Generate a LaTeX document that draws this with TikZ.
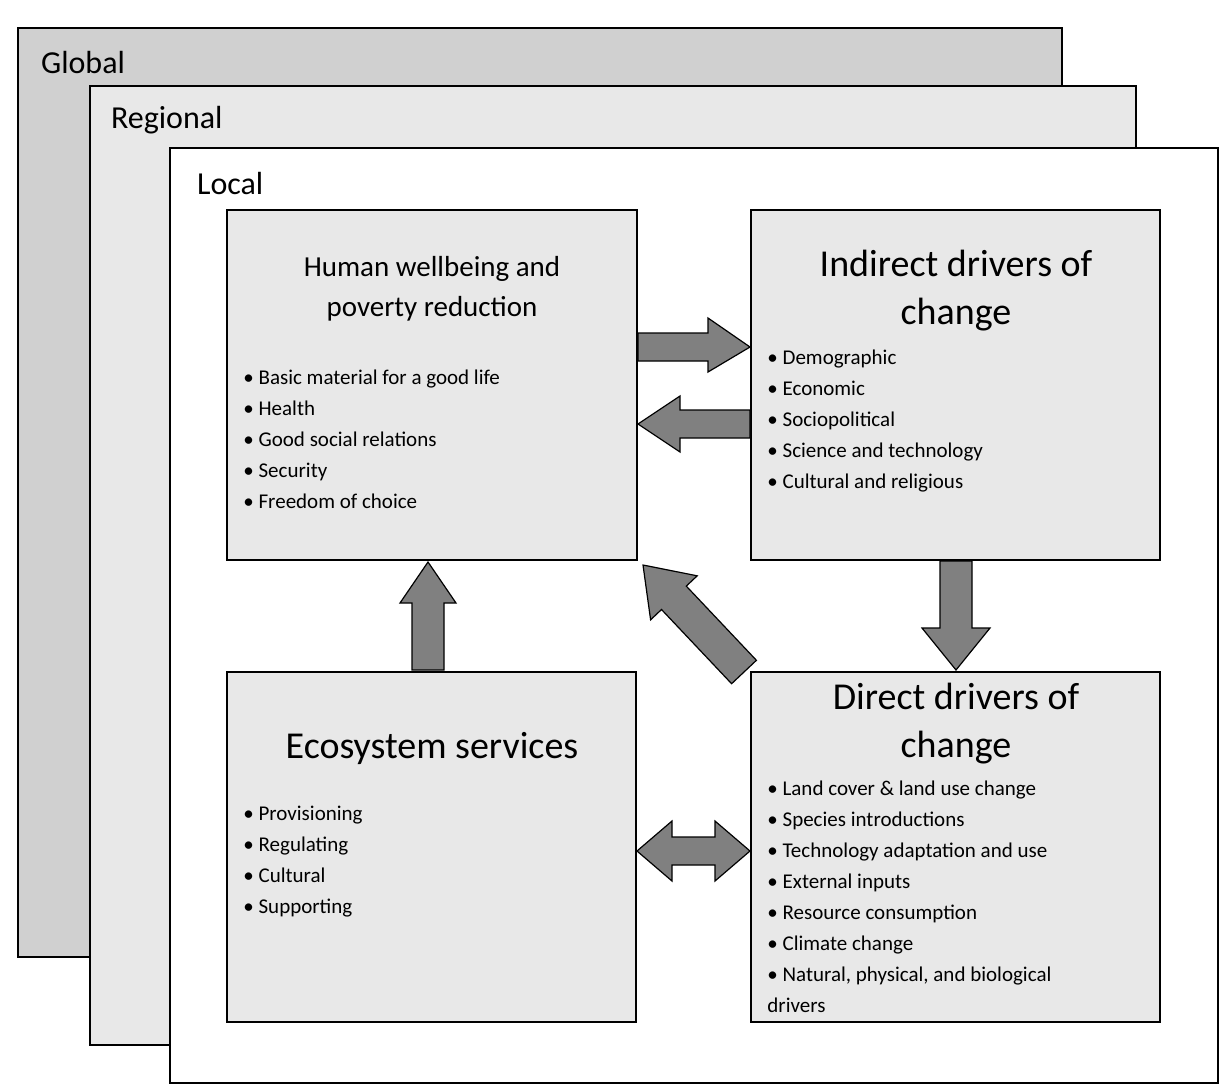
\documentclass[tikz,border=0pt]{standalone}
\usepackage{fontspec}
\setmainfont{Carlito}
\begin{document}
\begin{tikzpicture}[x=0.5pt,y=-0.5pt,
  lvl/.style={draw=black,line width=0.8pt},
  box/.style={draw=black,fill=gray!18,line width=0.8pt},
  fat/.style={draw=black,line width=0.6pt,fill={rgb,255:red,128;green,128;blue,128}},
  ttl/.style={anchor=north,align=center,inner sep=0},
  lst/.style={anchor=north west,align=left,inner sep=0,font=\fontsize{10.5}{15.5}\selectfont}]
\useasboundingbox (0,0) rectangle (1226,1089);
\draw[lvl,fill={rgb,255:red,208;green,208;blue,208}] (18,28) rectangle (1062,957);
\draw[lvl,fill={rgb,255:red,232;green,232;blue,232}] (90,86) rectangle (1136,1045);
\draw[lvl,fill=white] (170,148) rectangle (1218,1083);
\node[anchor=west,font=\fontsize{16}{18}\selectfont] (glob) at (34,62) {Global};
\node[anchor=west,font=\fontsize{16}{18}\selectfont] (reg) at (104,120) {Regional};
\node[anchor=west,font=\fontsize{16}{18}\selectfont] (loc) at (190,183) {Local};
\draw[box] (227,210) rectangle (637,560); \node (hw) at (432,385) {};
\draw[box] (751,210) rectangle (1160,560); \node (id) at (955,385) {};
\draw[box] (227,672) rectangle (636,1022); \node (es) at (432,847) {};
\draw[box] (751,672) rectangle (1160,1022); \node (dd) at (955,847) {};
\node[ttl,font=\fontsize{14.5}{20}\selectfont] (hwt) at (432,256) {Human wellbeing and\\poverty reduction};
\node[lst] (hwl) at (243,370) {• Basic material for a good life\\• Health\\• Good social relations\\• Security\\• Freedom of choice};
\node[ttl,font=\fontsize{19}{24}\selectfont] (idt) at (956,250) {Indirect drivers of\\change};
\node[lst] (idl) at (767,350) {• Demographic\\• Economic\\• Sociopolitical\\• Science and technology\\• Cultural and religious};
\node[ttl,font=\fontsize{19}{24}\selectfont] (est) at (432,732) {Ecosystem services};
\node[lst] (esl) at (243,806) {• Provisioning\\• Regulating\\• Cultural\\• Supporting};
\node[ttl,font=\fontsize{19}{24}\selectfont] (ddt) at (956,683) {Direct drivers of\\change};
\node[lst] (ddl) at (767,780) {• Land cover \& land use change\\• Species introductions\\• Technology adaptation and use\\• External inputs\\• Resource consumption\\• Climate change\\• Natural, physical, and biological\\drivers};
% arrows
\draw[fat] (638,333) -- (708,333) -- (708,318) -- (750,347) -- (708,372) -- (708,361) -- (638,361) -- cycle;
\draw[fat] (750,410) -- (680,410) -- (680,396) -- (638,424) -- (680,452) -- (680,438) -- (750,438) -- cycle;
\draw[fat] (940,561) -- (940,628) -- (922,628) -- (956,670) -- (990,628) -- (972,628) -- (972,561) -- cycle;
\draw[fat] (412,670) -- (412,603) -- (400,603) -- (428,562) -- (456,603) -- (444,603) -- (444,670) -- cycle;
\draw[fat] (756.4,660.3) -- (686.3,586.1) -- (697.2,575.8) -- (643,565) -- (650.6,619.8) -- (661.5,609.5) -- (731.6,683.7) -- cycle;
\draw[fat] (637,851) -- (672,821) -- (672,837) -- (715,837) -- (715,821) -- (750,851) -- (715,881) -- (715,865) -- (672,865) -- (672,881) -- cycle;
\end{tikzpicture}
\end{document}
